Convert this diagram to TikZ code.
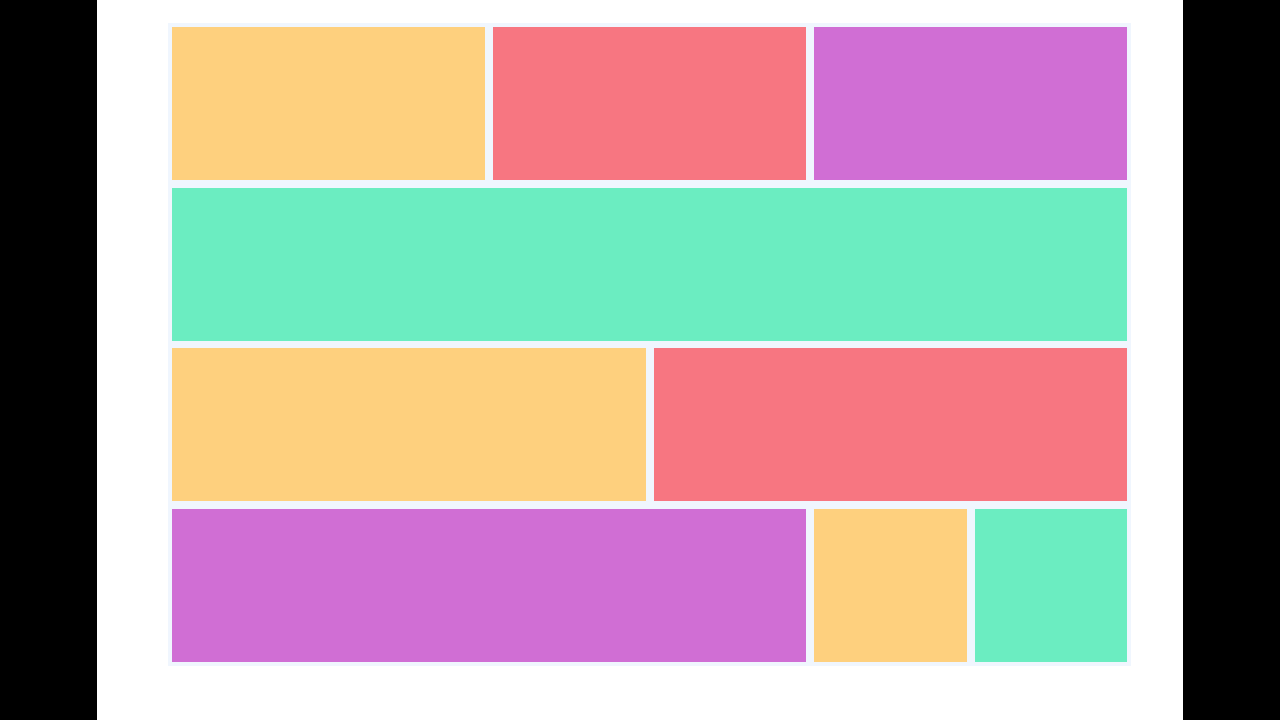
\documentclass[tikz,border=0pt]{standalone}
\definecolor{cyellow}{HTML}{FED07E}
\definecolor{cred}{HTML}{F77681}
\definecolor{cpurple}{HTML}{D06ED4}
\definecolor{cgreen}{HTML}{6BEDC1}
\definecolor{gridbg}{HTML}{F0F6FE}
\begin{document}
\begin{tikzpicture}[x=0.5pt,y=-0.5pt]
\useasboundingbox (0,0) rectangle (1280,720);
\fill[black] (0,0) rectangle (1280,720);
\fill[white] (97,0) rectangle (1183,720);
\fill[gridbg] (168,23) rectangle (1131,666);
% row 1
\fill[cyellow] (172,27) rectangle (485,180);
\fill[cred] (493,27) rectangle (806,180);
\fill[cpurple] (814,27) rectangle (1127,180);
% row 2
\fill[cgreen] (172,188) rectangle (1127,341);
% row 3
\fill[cyellow] (172,348) rectangle (646,501);
\fill[cred] (654,348) rectangle (1127,501);
% row 4
\fill[cpurple] (172,509) rectangle (806,662);
\fill[cyellow] (814,509) rectangle (967,662);
\fill[cgreen] (975,509) rectangle (1127,662);
\end{tikzpicture}
\end{document}
